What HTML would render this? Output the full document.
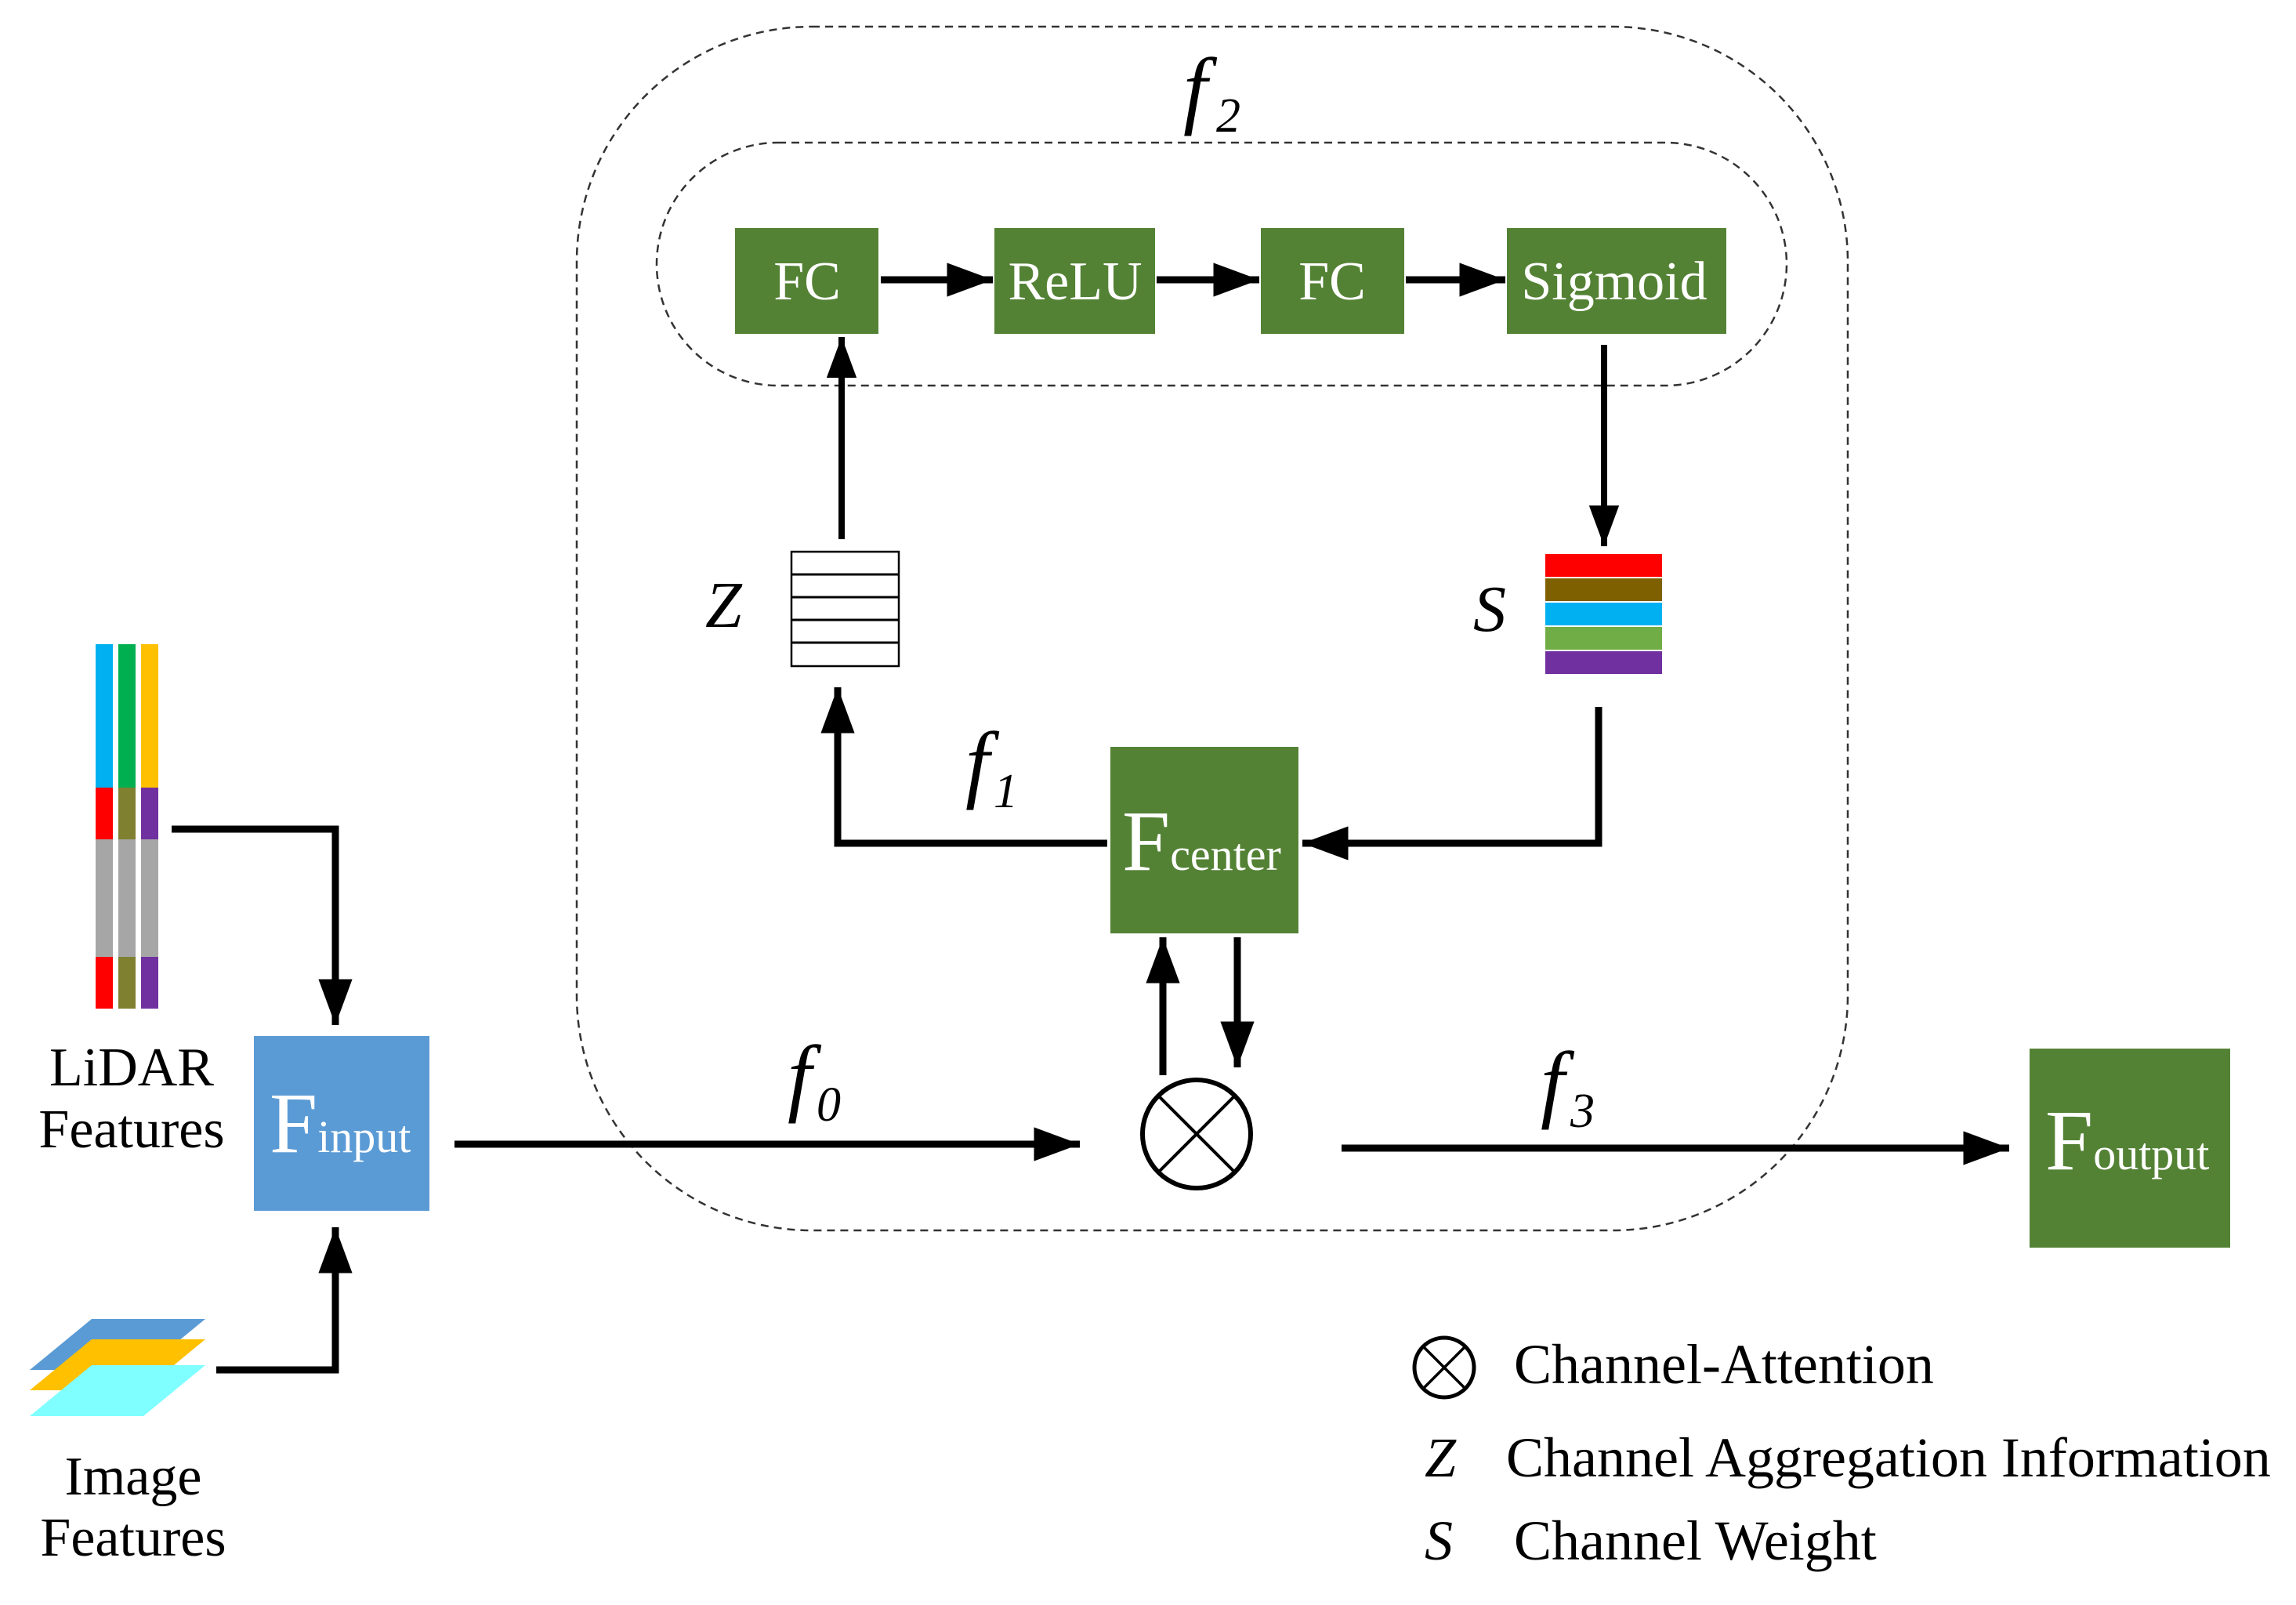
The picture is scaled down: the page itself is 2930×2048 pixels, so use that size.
<!DOCTYPE html>
<html><head><meta charset="utf-8"><style>
html,body{margin:0;padding:0;background:#fff;}
svg{display:block;}
text{font-family:"Liberation Serif",serif;}
</style></head><body>
<svg width="2930" height="2048" viewBox="0 0 2930 2048" xmlns="http://www.w3.org/2000/svg">
<defs>
<marker id="a" viewBox="0 0 10 10" refX="10" refY="5" markerWidth="6.5" markerHeight="4.8" markerUnits="strokeWidth" orient="auto" preserveAspectRatio="none">
<path d="M0,0 L10,5 L0,10 z" fill="#000"/></marker>
</defs>
<rect x="736" y="34" width="1622" height="1536" rx="300" ry="300" fill="none" stroke="#333" stroke-width="2.5" stroke-dasharray="10,7"/>
<rect x="838" y="182" width="1442" height="310" rx="155" ry="155" fill="none" stroke="#333" stroke-width="2.5" stroke-dasharray="10,7"/>
<text x="1510" y="150" font-size="110" font-style="italic">f</text><text x="1552" y="168" font-size="62" font-style="italic">2</text>

<g fill="#548235">
<rect x="938" y="291" width="183" height="135"/>
<rect x="1269" y="291" width="205" height="135"/>
<rect x="1609" y="291" width="183" height="135"/>
<rect x="1923" y="291" width="280" height="135"/>
</g>
<g fill="#fff" font-size="70" text-anchor="middle">
<text x="1030" y="382">FC</text>
<text x="1372" y="382">ReLU</text>
<text x="1700" y="382">FC</text>
<text x="2060" y="382">Sigmoid</text>
</g>
<g stroke="#000" stroke-width="9" fill="none" marker-end="url(#a)">
<line x1="1124" y1="357" x2="1267" y2="357"/>
<line x1="1476" y1="357" x2="1607" y2="357"/>
<line x1="1794" y1="357" x2="1921" y2="357"/>
</g>
<g stroke="#000" stroke-width="8" fill="none" marker-end="url(#a)">
<line x1="1074" y1="688" x2="1074" y2="430"/>
<line x1="2047" y1="440" x2="2047" y2="697"/>
</g>

<rect x="1010" y="704" width="137" height="146" fill="#fff" stroke="#000" stroke-width="2.5"/>
<g stroke="#000" stroke-width="3">
<line x1="1010" y1="733" x2="1147" y2="733"/>
<line x1="1010" y1="762" x2="1147" y2="762"/>
<line x1="1010" y1="791" x2="1147" y2="791"/>
<line x1="1010" y1="820" x2="1147" y2="820"/>
</g>
<text x="900" y="800" font-size="84" font-style="italic">Z</text>

<rect x="1972" y="707" width="149" height="29" fill="#ff0000"/>
<rect x="1972" y="738" width="149" height="29" fill="#7f6000"/>
<rect x="1972" y="769" width="149" height="29" fill="#00b0f0"/>
<rect x="1972" y="800" width="149" height="29" fill="#70ad47"/>
<rect x="1972" y="831" width="149" height="29" fill="#7030a0"/>
<text x="1880" y="805" font-size="84" font-style="italic">S</text>

<rect x="1417" y="953" width="240" height="238" fill="#548235"/>
<text x="1432" y="1110" font-size="110" fill="#fff">F<tspan font-size="58">center</tspan></text>

<g stroke="#000" stroke-width="9" fill="none">
<polyline points="1413,1076 1069,1076 1069,877" marker-end="url(#a)"/>
<polyline points="2040,902 2040,1076 1662,1076" marker-end="url(#a)"/>
<line x1="1484" y1="1372" x2="1484" y2="1196" marker-end="url(#a)"/>
<line x1="1579" y1="1196" x2="1579" y2="1362" marker-end="url(#a)"/>
<line x1="580" y1="1460" x2="1378" y2="1460" marker-end="url(#a)"/>
<line x1="1712" y1="1465" x2="2564" y2="1465" marker-end="url(#a)"/>
<polyline points="219,1058 428,1058 428,1308" marker-end="url(#a)"/>
<polyline points="276,1748 428,1748 428,1566" marker-end="url(#a)"/>
</g>
<text x="1232" y="1010" font-size="110" font-style="italic">f</text><text x="1268" y="1030" font-size="62" font-style="italic">1</text>
<text x="1005" y="1410" font-size="110" font-style="italic">f</text><text x="1042" y="1430" font-size="62" font-style="italic">0</text>
<text x="1966" y="1418" font-size="110" font-style="italic">f</text><text x="2004" y="1438" font-size="62" font-style="italic">3</text>

<circle cx="1527" cy="1447" r="69" fill="#fff" stroke="#000" stroke-width="6"/>
<line x1="1478" y1="1398" x2="1576" y2="1496" stroke="#000" stroke-width="4"/>
<line x1="1576" y1="1398" x2="1478" y2="1496" stroke="#000" stroke-width="4"/>

<rect x="324" y="1322" width="224" height="223" fill="#5b9bd5"/>
<text x="344" y="1470" font-size="110" fill="#fff">F<tspan font-size="58">input</tspan></text>

<rect x="2590" y="1338" width="256" height="254" fill="#548235"/>
<text x="2610" y="1492" font-size="110" fill="#fff">F<tspan font-size="58">output</tspan></text>

<g>
<rect x="122" y="822" width="22" height="183" fill="#00b0f0"/>
<rect x="151" y="822" width="22" height="183" fill="#00b050"/>
<rect x="180" y="822" width="22" height="183" fill="#ffc000"/>
<rect x="122" y="1005" width="22" height="66" fill="#ff0000"/>
<rect x="151" y="1005" width="22" height="66" fill="#7f8030"/>
<rect x="180" y="1005" width="22" height="66" fill="#7030a0"/>
<rect x="122" y="1071" width="22" height="150" fill="#a6a6a6"/>
<rect x="151" y="1071" width="22" height="150" fill="#a6a6a6"/>
<rect x="180" y="1071" width="22" height="150" fill="#a6a6a6"/>
<rect x="122" y="1221" width="22" height="66" fill="#ff0000"/>
<rect x="151" y="1221" width="22" height="66" fill="#7f8030"/>
<rect x="180" y="1221" width="22" height="66" fill="#7030a0"/>
</g>
<g font-size="70" text-anchor="middle">
<text x="168" y="1385">LiDAR</text>
<text x="168" y="1464">Features</text>
<text x="170" y="1907">Image</text>
<text x="170" y="1985">Features</text>
</g>

<polygon points="117,1683 262,1683 183,1748 38,1748" fill="#5b9bd5"/>
<polygon points="117,1709 262,1709 183,1774 38,1774" fill="#ffc000"/>
<polygon points="117,1742 262,1742 183,1807 38,1807" fill="#7fffff"/>

<circle cx="1843" cy="1745" r="38" fill="#fff" stroke="#000" stroke-width="5"/>
<line x1="1816" y1="1718" x2="1870" y2="1772" stroke="#000" stroke-width="3.5"/>
<line x1="1870" y1="1718" x2="1816" y2="1772" stroke="#000" stroke-width="3.5"/>
<g font-size="72">
<text x="1932" y="1765">Channel-Attention</text>
<text x="1818" y="1884" font-style="italic">Z</text>
<text x="1922" y="1884">Channel Aggregation Information</text>
<text x="1818" y="1990" font-style="italic">S</text>
<text x="1932" y="1990">Channel Weight</text>
</g>
</svg>
</body></html>
